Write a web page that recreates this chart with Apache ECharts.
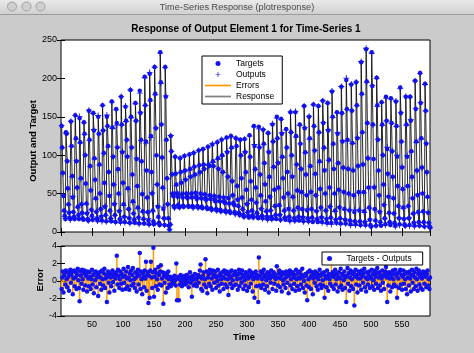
<!DOCTYPE html>
<html>
<head>
<meta charset="utf-8">
<script src="https://cdn.jsdelivr.net/npm/echarts@6/dist/echarts.min.js"></script>
<style>
html,body{margin:0;padding:0;background:#cbcbcb}
#main{width:474px;height:353px}
</style>
</head>
<body>
<div id="main"></div>
<script>
// targets, one row per cycle (peak first, then the decay)
// first stretch: peaks growing up to ~234, then the drop near step 175
var targetsRise = [
  138, 110, 77, 47, 28, 21, 17,
  130, 128, 92, 57, 36, 25, 19, 17,
  144, 112, 73, 45, 26, 20, 17,
  152, 122, 92, 58, 33, 22, 17,
  148, 117, 70, 36, 25, 18, 16,
  143, 128, 100, 63, 37, 24, 17, 15,
  158, 120, 86, 54, 29, 21, 16,
  155, 132, 96, 68, 44, 26, 18, 15,
  150, 128, 88, 50, 30, 20, 15,
  165, 132, 103, 64, 33, 22, 14,
  150, 138, 112, 78, 47, 28, 18, 14,
  170, 136, 98, 62, 36, 22, 13,
  160, 142, 110, 82, 50, 27, 17, 13,
  176, 140, 104, 64, 36, 20, 13,
  163, 145, 120, 98, 57, 30, 18, 12,
  185, 150, 110, 75, 40, 24, 16, 12,
  168, 145, 95, 60, 32, 19, 11,
  184, 155, 120, 92, 49, 27, 17, 11,
  202, 165, 118, 80, 45, 26, 15, 10,
  206, 172, 125, 78, 50, 28, 14, 10,
  215, 180, 135, 100, 62, 33, 20, 12, 9,
  234, 195, 140, 97, 58, 30, 18, 9,
  215, 176, 120, 70, 36, 18, 8, 3, 10
];

// middle stretch: flat bands between ~25 and ~125
var targetsFlat = [
  125, 105, 75, 50, 47, 34, 32,
  98, 76, 62, 50, 46, 35, 33, 32,
  96, 78, 64, 49, 45, 34, 33,
  99, 80, 68, 50, 46, 44, 34, 33,
  101, 82, 72, 50, 45, 34, 32,
  103, 85, 75, 51, 46, 43, 34, 32,
  106, 87, 78, 50, 44, 33, 31,
  108, 88, 82, 49, 44, 42, 32, 30,
  111, 88, 86, 48, 43, 31, 29,
  114, 92, 86, 47, 42, 40, 30, 28,
  117, 96, 82, 46, 40, 29, 27,
  120, 100, 78, 45, 40, 38, 28, 26,
  123, 104, 72, 44, 37, 27, 25,
  125, 110, 66, 48, 38, 35, 26, 24,
  122, 112, 60, 42, 34, 25, 22
];

// last stretch: peaks growing again up to ~238
var targetsLate = [
  120, 100, 70, 45, 30, 22, 20,
  121, 104, 78, 55, 36, 26, 21, 19,
  126, 98, 66, 42, 28, 21, 19,
  138, 112, 82, 58, 38, 25, 20, 18,
  137, 110, 75, 48, 30, 21, 18,
  133, 115, 90, 62, 40, 27, 20, 17,
  129, 104, 72, 46, 28, 20, 17,
  140, 118, 85, 55, 34, 22, 17,
  150, 122, 90, 58, 35, 22, 16,
  147, 128, 98, 70, 45, 28, 19, 16,
  134, 110, 78, 50, 30, 20, 15,
  156, 130, 100, 72, 46, 28, 18, 15,
  156, 125, 88, 54, 32, 20, 15,
  140, 115, 82, 52, 30, 19, 14,
  164, 135, 104, 75, 48, 28, 18, 14,
  150, 122, 86, 52, 30, 19, 13,
  166, 138, 106, 76, 48, 27, 17, 13,
  164, 130, 92, 56, 32, 19, 13,
  171, 142, 110, 80, 50, 28, 17, 12,
  168, 132, 94, 58, 33, 19, 12,
  183, 150, 115, 82, 50, 28, 16, 12,
  156, 128, 90, 55, 32, 18, 11,
  189, 155, 118, 84, 52, 30, 16, 11,
  198, 160, 120, 82, 50, 28, 15, 10,
  192, 158, 116, 80, 48, 26, 14, 10,
  195, 165, 122, 86, 52, 28, 14, 9,
  221, 180, 130, 88, 52, 27, 13, 9,
  238, 196, 142, 96, 58, 32, 16, 9, 7,
  234, 190, 140, 95, 58, 30, 15, 8,
  201, 165, 120, 80, 48, 26, 13, 8,
  169, 140, 100, 62, 35, 18, 10,
  176, 145, 108, 76, 46, 25, 13, 9,
  174, 142, 105, 72, 44, 24, 12, 8,
  170, 138, 98, 60, 34, 18, 10,
  188, 155, 118, 84, 56, 32, 17, 10, 8,
  176, 140, 98, 60, 34, 18, 9,
  176, 145, 105, 72, 44, 24, 12, 8,
  197, 160, 118, 80, 48, 26, 13, 8,
  207, 168, 122, 84, 50, 27, 13, 7,
  193, 158, 115, 78, 46, 25, 12, 7, 6
];

// targets - outputs, 20 steps per row
var errors = [
  -0.9, 0.4, 1.1, -1.3, 0.6, 0.9, -0.4, 1.2, 0.2, -0.7, 1.0, 0.5, -1.1, 0.8, 1.3, -0.2, 0.7, 1.1, -1.5, 0.3,
  1.2, -0.6, 0.4, 1.0, -0.9, 0.7, 1.4, 0.1, -0.8, -2.3, 1.1, 0.6, -0.3, 1.3, 0.2, -1.0, 0.9, 1.2, -0.5, 0.6,
  0.8, -1.2, 1.1, 0.3, -0.6, 1.0, 0.5, -0.9, 0.2, 1.3, -0.4, 0.7, -1.4, 0.9, 0.1, 1.1, -0.7, 0.4, 0.8, -1.7,
  0.6, 1.0, -0.3, 0.4, -1.0, 1.2, 0.2, -0.5, 0.9, 1.4, -0.8, 0.3, 0.7, -2.4, 0.5, 1.1, -0.2, -1.3, 0.8, 0.4,
  -0.6, 0.9, 1.2, -0.1, 0.5, -1.1, 0.7, 0.3, 1.0, 2.9, -0.4, 1.3, 0.6, -0.8, 0.2, 1.1, -0.3, 0.8, -1.0, 0.5,
  1.4, -0.2, 0.6, -0.9, 1.1, 0.3, -0.6, 1.6, 0.4, -1.0, 0.9, 0.1, 1.2, -0.5, 0.7, 1.5, -0.3, 0.2, -0.8, 1.0,
  0.4, -1.2, 0.8, 1.3, -0.4, 0.6, 3.2, -0.9, 1.1, 0.2, -1.5, 0.9, 0.5, -0.7, 1.2, 0.3, 2.2, -1.1, 0.7, 1.0,
  -2.5, 0.6, -1.9, 1.2, 2.2, 0.4, -0.8, 1.0, 3.8, -1.8, 0.5, 1.3, -0.6, 0.9, 0.2, -1.0, 1.6, 0.7, -0.4, 1.1,
  1.8, -0.5, 0.3, 1.0, -2.6, 0.6, -0.2, 0.9, -1.3, 0.4, 0.7, -0.8, 1.1, 0.2, -0.4, 0.5, -0.6, 0.3, 0.1, -0.3,
  0.4, -0.2, 0.6, 0.1, -0.5, 2.0, -2.2, 0.3, 0.5, -2.2, 0.2, -0.4, 0.7, 0.0, -0.6, 0.3, 0.5, -0.3, 0.1, 0.6,
  -0.4, 0.2, 0.7, -0.1, 0.4, -0.7, 0.3, 1.0, -0.2, 0.5, -1.8, 0.1, 0.6, -0.5, 0.3, 0.8, -0.3, 0.2, -0.6, 0.4,
  0.7, -0.2, 0.5, 1.2, 1.9, -0.9, 0.3, -1.1, 0.6, 1.0, -0.4, 0.2, 2.5, -0.7, 1.1, -1.4, 0.4, 0.8, -0.3, 1.3,
  -0.6, 0.9, 0.3, -1.0, 1.2, 0.5, -0.2, 0.7, 1.1, -0.8, 0.4, 0.0, 1.3, -0.5, 0.6, -1.2, 0.9, 0.2, -0.3, 1.0,
  0.5, -0.9, 1.2, 0.3, -0.4, 0.8, 1.1, -0.7, 0.2, -1.6, 0.6, 1.0, -0.3, 0.4, 1.2, -0.8, 0.1, 0.7, -0.5, 0.9,
  1.1, -0.4, 0.6, 0.2, -1.0, 0.8, 1.3, -0.6, 0.3, 0.9, -0.2, 1.2, 0.5, -0.9, 0.7, 0.1, -0.5, 1.0, 0.4, -1.1,
  0.8, 0.3, -0.7, 1.2, 0.5, -0.3, 1.0, 0.6, -1.2, 0.2, 0.9, -1.9, 0.4, 1.1, -0.6, 0.7, 0.3, -2.4, 2.7, -0.5,
  0.6, 1.1, -0.8, 0.2, 0.9, -0.4, 1.3, 0.5, -1.0, 0.7, 0.1, -0.6, 1.0, 0.4, -1.3, 0.8, 0.3, -0.2, 1.2, 0.6,
  -0.9, 0.5, 1.0, -0.3, 0.7, 0.2, -1.1, 1.7, 0.4, -0.5, 0.9, 1.2, -0.7, 0.3, 0.6, -1.2, 1.0, 0.1, -0.4, 0.8,
  0.3, -0.8, 1.1, 0.5, -0.2, 0.9, -1.4, 0.6, 1.2, -0.5, 0.2, 0.8, -0.9, 1.0, 0.4, -0.3, 0.7, -1.1, 1.3, 0.2,
  -0.6, 0.9, 0.4, -1.0, 1.1, 0.3, -0.4, 0.7, 1.4, -0.8, 0.5, 0.0, -1.3, 0.8, 0.6, -0.5, -2.2, 1.0, 0.2, -0.7,
  1.2, 0.4, -0.9, 0.6, 1.0, -1.5, 0.3, 0.8, -0.2, 1.1, 0.5, -0.6, 0.9, -1.0, 0.2, 0.7, 1.3, -0.4, 0.6, -0.8,
  0.9, 0.1, -0.5, 1.0, -1.9, 0.6, 0.3, -0.7, 1.2, 0.4, -1.1, 0.8, 0.2, -0.3, 0.6, 2.1, -0.6, 1.0, 0.5, -0.9,
  0.7, 1.3, -0.4, 0.2, 0.9, -1.2, 0.5, 1.0, -0.7, 0.3, 1.4, -0.5, 0.8, -1.0, 0.6, 0.1, 1.1, -0.8, 0.4, -2.4,
  0.6, 1.5, -0.3, 0.9, -1.1, 0.4, 1.2, -0.6, 0.2, 0.8, -0.9, 1.0, -2.8, 0.5, 1.3, -0.4, 0.7, -1.3, 0.3, 1.1,
  -0.5, 0.8, 0.3, -1.0, 1.2, 0.6, -0.2, 0.9, 1.4, -0.7, 0.4, -1.2, 1.0, 0.2, -0.4, 0.7, 1.1, -0.8, 0.5, 0.3,
  1.3, -0.6, 0.8, 0.1, -1.0, 1.2, 0.5, -0.3, 0.9, 1.5, -0.8, 0.4, 1.0, -0.5, 0.7, -1.1, 0.3, 1.2, -0.2, 0.6,
  -0.9, 0.8, 1.1, 1.6, 0.4, -2.4, 0.7, -0.5, 1.0, 0.3, -1.2, 0.9, 0.5, -0.7, 1.2, 0.2, -0.4, 0.8, 1.3, -0.6,
  0.6, -1.9, 0.9, 0.3, -0.8, 1.1, 1.3, -0.4, 0.7, -1.0, 0.5, 1.2, -0.3, 0.8, 0.2, -0.9, 1.0, -1.5, 0.4, 0.9,
  -0.5, 1.1, 0.3, -1.2, 0.7, 1.3, -0.2, 0.6, -0.9, 1.0, 0.4, -0.6, 1.4, 0.2, -1.1, 0.8, 1.2, -0.4, 0.5, -0.8,
  0.9, 0.3, -1.0, 1.1, 0.6, -0.3, 1.0, 0.5, -0.7, 0.8, 1.2, -0.5, 0.2, -0.9, 0.4
];

var targets = targetsRise.concat(targetsFlat, targetsLate);
var outputs = targets.map(function (t, i) { return +(t - errors[i]).toFixed(2); });

var blue = '#1212ee';
var orange = '#ff9a00';
var font = 'Liberation Sans';
var plusIcon = 'path://M3,0h1v3h3v1h-3v3h-1v-3h-3v-1h3z';
var barIcon = 'path://M0,0h30v2h-30z';

var targetPts = [], outputPts = [], errSegs = [], errPts = [], stems = [];
for (var i = 0; i < targets.length; i++) {
  targetPts.push([i + 1, targets[i]]);
  outputPts.push([i + 1, outputs[i]]);
  errSegs.push([i + 1, targets[i], outputs[i]]);
  errPts.push([i + 1, errors[i]]);
  stems.push([i + 1, 0, errors[i]]);
}

function segment(color, width) {
  return function (params, api) {
    var a = api.coord([api.value(0), api.value(1)]);
    var b = api.coord([api.value(0), api.value(2)]);
    return {
      type: 'line',
      shape: { x1: a[0], y1: a[1], x2: b[0], y2: b[1] },
      style: { stroke: color, lineWidth: width }
    };
  };
}

function timeAxis(grid, pos, labels) {
  return {
    type: 'value', gridIndex: grid, position: pos,
    min: 0, max: 595, interval: 50,
    axisLine: { show: false },
    axisTick: { show: true, inside: true, length: 4, lineStyle: { color: '#000' } },
    splitLine: { show: false },
    axisLabel: {
      show: labels, color: '#000', fontSize: 9, fontFamily: font, margin: 4,
      formatter: function (v) { return (v > 0 && v % 50 === 0) ? v : ''; }
    }
  };
}

function valAxis(grid, pos, min, max, step, labels) {
  return {
    type: 'value', gridIndex: grid, position: pos,
    min: min, max: max, interval: step,
    axisLine: { show: false },
    axisTick: { show: true, inside: true, length: 4, lineStyle: { color: '#000' } },
    splitLine: { show: false },
    axisLabel: { show: labels, color: '#000', fontSize: 9, fontFamily: font, margin: 4 }
  };
}

var chart = echarts.init(document.getElementById('main'));
var option = {
  backgroundColor: '#cbcbcb',
  animation: false,
  title: [{
    text: 'Response of Output Element 1 for Time-Series 1',
    left: 246, top: 24, textAlign: 'center', padding: 0,
    textStyle: { fontSize: 10, fontWeight: 'bold', fontFamily: font, color: '#000' }
  }],
  graphic: [
    { type: 'rect', shape: { x: 0, y: 0, width: 474, height: 14 },
      style: { fill: new echarts.graphic.LinearGradient(0, 0, 0, 1, [
        { offset: 0, color: '#e9e9e9' }, { offset: 1, color: '#d0d0d0' }]) } },
    { type: 'line', shape: { x1: 0, y1: 14.5, x2: 474, y2: 14.5 }, style: { stroke: '#9c9c9c', lineWidth: 1 } },
    { type: 'circle', shape: { cx: 12, cy: 6.5, r: 4.5 }, style: { fill: '#cfcfcf', stroke: '#a2a2a2', lineWidth: 1 } },
    { type: 'circle', shape: { cx: 26.5, cy: 6.5, r: 4.5 }, style: { fill: '#cfcfcf', stroke: '#a2a2a2', lineWidth: 1 } },
    { type: 'circle', shape: { cx: 40.5, cy: 6.5, r: 4.5 }, style: { fill: '#cfcfcf', stroke: '#a2a2a2', lineWidth: 1 } },
    { type: 'text', x: 237, y: 7.5,
      style: { text: 'Time-Series Response (plotresponse)', fill: '#4a4a4a', font: '9.2px ' + font,
        align: 'center', verticalAlign: 'middle' } },
    { type: 'text', x: 33, y: 141, rotation: Math.PI / 2,
      style: { text: 'Output and Target', fill: '#000', font: 'bold 9.5px ' + font,
        align: 'center', verticalAlign: 'middle' } },
    { type: 'text', x: 40, y: 280, rotation: Math.PI / 2,
      style: { text: 'Error', fill: '#000', font: 'bold 9.5px ' + font,
        align: 'center', verticalAlign: 'middle' } },
    { type: 'text', x: 244, y: 337,
      style: { text: 'Time', fill: '#000', font: 'bold 9.5px ' + font,
        align: 'center', verticalAlign: 'middle' } }
  ],
  legend: [{
    orient: 'vertical', left: 202, top: 56,
    backgroundColor: '#fff', borderColor: '#000', borderWidth: 1,
    padding: [2, 8, 2, 3], itemGap: 0, itemWidth: 26, itemHeight: 5,
    textStyle: { fontSize: 8.5, fontFamily: font, color: '#000', lineHeight: 11 },
    data: [
      'Targets', 'Outputs',
      { name: 'Errors', icon: barIcon },
      { name: 'Response', icon: barIcon, itemStyle: { color: '#808080' } }
    ]
  }, {
    left: 322, top: 252,
    backgroundColor: '#fff', borderColor: '#000', borderWidth: 1,
    padding: [1, 11, 1, 5], itemWidth: 24, itemHeight: 5,
    textStyle: { fontSize: 8.5, fontFamily: font, color: '#000', lineHeight: 11 },
    data: ['Targets - Outputs']
  }],
  grid: [
    { left: 61, top: 40, width: 369, height: 192, show: true, backgroundColor: '#fff', borderColor: '#000', borderWidth: 1 },
    { left: 61, top: 246, width: 369, height: 70, show: true, backgroundColor: '#fff', borderColor: '#000', borderWidth: 1 }
  ],
  xAxis: [
    timeAxis(0, 'bottom', false),
    timeAxis(0, 'top', false),
    timeAxis(1, 'bottom', true),
    timeAxis(1, 'top', false)
  ],
  yAxis: [
    valAxis(0, 'left', 0, 250, 50, true),
    valAxis(0, 'right', 0, 250, 50, false),
    valAxis(1, 'left', -4, 4, 2, true),
    valAxis(1, 'right', -4, 4, 2, false)
  ],
  series: [
    { name: 'Response', type: 'line', xAxisIndex: 0, yAxisIndex: 0, data: outputPts,
      symbol: 'none', lineStyle: { color: '#111', width: 0.9 }, itemStyle: { color: '#111' }, z: 1 },
    { name: 'Errors', type: 'custom', xAxisIndex: 0, yAxisIndex: 0, data: errSegs,
      encode: { x: 0, y: [1, 2] }, renderItem: segment(orange, 1.5), itemStyle: { color: orange }, z: 2 },
    { name: 'Targets', type: 'scatter', xAxisIndex: 0, yAxisIndex: 0, data: targetPts,
      symbol: 'circle', symbolSize: 4.5, itemStyle: { color: blue, opacity: 1 }, z: 3 },
    { name: 'Outputs', type: 'scatter', xAxisIndex: 0, yAxisIndex: 0, data: outputPts,
      symbol: plusIcon, symbolSize: 6, itemStyle: { color: blue, opacity: 1 }, z: 4 },
    { name: 'stems', type: 'custom', xAxisIndex: 2, yAxisIndex: 2, data: stems,
      encode: { x: 0, y: [1, 2] }, renderItem: segment(orange, 1.5), itemStyle: { color: orange }, z: 2 },
    { name: 'Targets - Outputs', type: 'scatter', xAxisIndex: 2, yAxisIndex: 2, data: errPts,
      symbol: 'circle', symbolSize: 4.5, itemStyle: { color: blue, opacity: 1 }, z: 3 }
  ]
};
chart.setOption(option);
</script>
</body>
</html>
